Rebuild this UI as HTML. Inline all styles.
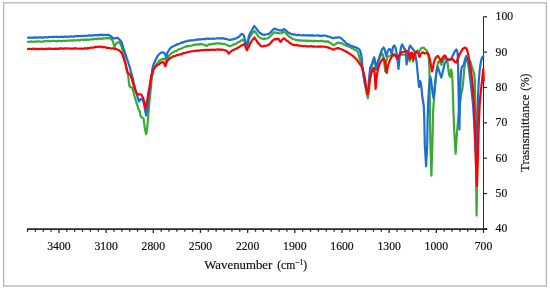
<!DOCTYPE html>
<html lang="en">
<head>
<meta charset="utf-8">
<title>FTIR spectra</title>
<style>
html,body{margin:0;padding:0;background:#fff;}
body{width:550px;height:289px;overflow:hidden;}
svg{display:block;}
text{font-family:"Liberation Serif",serif;font-size:11.7px;fill:#111;stroke:#111;stroke-width:0.18px;}
.c{fill:none;stroke-width:2.2;stroke-linejoin:round;stroke-linecap:round;}
.ax line{stroke:#2a2a2a;}
</style>
</head>
<body>
<svg width="550" height="289" viewBox="0 0 550 289">
<rect x="0" y="0" width="550" height="289" fill="#fff"/>
<rect x="3.6" y="2.8" width="542.8" height="283.2" fill="#fff" stroke="#b4b4b4" stroke-width="1.3"/>
<g class="ax">
<line x1="27.0" y1="229.1" x2="487.3" y2="229.1" style="stroke-width:1.7"/>
<line x1="483.5" y1="16.3" x2="483.5" y2="228.9" stroke-width="1"/>
<line x1="27.50" y1="228.9" x2="27.50" y2="231.8" stroke-width="1.3"/>
<line x1="35.36" y1="228.9" x2="35.36" y2="231.8" stroke-width="1.3"/>
<line x1="43.22" y1="228.9" x2="43.22" y2="231.8" stroke-width="1.3"/>
<line x1="51.09" y1="228.9" x2="51.09" y2="231.8" stroke-width="1.3"/>
<line x1="58.95" y1="228.9" x2="58.95" y2="232.9" stroke-width="1.3"/>
<line x1="66.81" y1="228.9" x2="66.81" y2="231.8" stroke-width="1.3"/>
<line x1="74.67" y1="228.9" x2="74.67" y2="231.8" stroke-width="1.3"/>
<line x1="82.53" y1="228.9" x2="82.53" y2="231.8" stroke-width="1.3"/>
<line x1="90.40" y1="228.9" x2="90.40" y2="231.8" stroke-width="1.3"/>
<line x1="98.26" y1="228.9" x2="98.26" y2="231.8" stroke-width="1.3"/>
<line x1="106.12" y1="228.9" x2="106.12" y2="232.9" stroke-width="1.3"/>
<line x1="113.98" y1="228.9" x2="113.98" y2="231.8" stroke-width="1.3"/>
<line x1="121.84" y1="228.9" x2="121.84" y2="231.8" stroke-width="1.3"/>
<line x1="129.71" y1="228.9" x2="129.71" y2="231.8" stroke-width="1.3"/>
<line x1="137.57" y1="228.9" x2="137.57" y2="231.8" stroke-width="1.3"/>
<line x1="145.43" y1="228.9" x2="145.43" y2="231.8" stroke-width="1.3"/>
<line x1="153.29" y1="228.9" x2="153.29" y2="232.9" stroke-width="1.3"/>
<line x1="161.16" y1="228.9" x2="161.16" y2="231.8" stroke-width="1.3"/>
<line x1="169.02" y1="228.9" x2="169.02" y2="231.8" stroke-width="1.3"/>
<line x1="176.88" y1="228.9" x2="176.88" y2="231.8" stroke-width="1.3"/>
<line x1="184.74" y1="228.9" x2="184.74" y2="231.8" stroke-width="1.3"/>
<line x1="192.60" y1="228.9" x2="192.60" y2="231.8" stroke-width="1.3"/>
<line x1="200.47" y1="228.9" x2="200.47" y2="232.9" stroke-width="1.3"/>
<line x1="208.33" y1="228.9" x2="208.33" y2="231.8" stroke-width="1.3"/>
<line x1="216.19" y1="228.9" x2="216.19" y2="231.8" stroke-width="1.3"/>
<line x1="224.05" y1="228.9" x2="224.05" y2="231.8" stroke-width="1.3"/>
<line x1="231.91" y1="228.9" x2="231.91" y2="231.8" stroke-width="1.3"/>
<line x1="239.78" y1="228.9" x2="239.78" y2="231.8" stroke-width="1.3"/>
<line x1="247.64" y1="228.9" x2="247.64" y2="232.9" stroke-width="1.3"/>
<line x1="255.50" y1="228.9" x2="255.50" y2="231.8" stroke-width="1.3"/>
<line x1="263.36" y1="228.9" x2="263.36" y2="231.8" stroke-width="1.3"/>
<line x1="271.22" y1="228.9" x2="271.22" y2="231.8" stroke-width="1.3"/>
<line x1="279.09" y1="228.9" x2="279.09" y2="231.8" stroke-width="1.3"/>
<line x1="286.95" y1="228.9" x2="286.95" y2="231.8" stroke-width="1.3"/>
<line x1="294.81" y1="228.9" x2="294.81" y2="232.9" stroke-width="1.3"/>
<line x1="302.67" y1="228.9" x2="302.67" y2="231.8" stroke-width="1.3"/>
<line x1="310.53" y1="228.9" x2="310.53" y2="231.8" stroke-width="1.3"/>
<line x1="318.40" y1="228.9" x2="318.40" y2="231.8" stroke-width="1.3"/>
<line x1="326.26" y1="228.9" x2="326.26" y2="231.8" stroke-width="1.3"/>
<line x1="334.12" y1="228.9" x2="334.12" y2="231.8" stroke-width="1.3"/>
<line x1="341.98" y1="228.9" x2="341.98" y2="232.9" stroke-width="1.3"/>
<line x1="349.84" y1="228.9" x2="349.84" y2="231.8" stroke-width="1.3"/>
<line x1="357.71" y1="228.9" x2="357.71" y2="231.8" stroke-width="1.3"/>
<line x1="365.57" y1="228.9" x2="365.57" y2="231.8" stroke-width="1.3"/>
<line x1="373.43" y1="228.9" x2="373.43" y2="231.8" stroke-width="1.3"/>
<line x1="381.29" y1="228.9" x2="381.29" y2="231.8" stroke-width="1.3"/>
<line x1="389.16" y1="228.9" x2="389.16" y2="232.9" stroke-width="1.3"/>
<line x1="397.02" y1="228.9" x2="397.02" y2="231.8" stroke-width="1.3"/>
<line x1="404.88" y1="228.9" x2="404.88" y2="231.8" stroke-width="1.3"/>
<line x1="412.74" y1="228.9" x2="412.74" y2="231.8" stroke-width="1.3"/>
<line x1="420.60" y1="228.9" x2="420.60" y2="231.8" stroke-width="1.3"/>
<line x1="428.47" y1="228.9" x2="428.47" y2="231.8" stroke-width="1.3"/>
<line x1="436.33" y1="228.9" x2="436.33" y2="232.9" stroke-width="1.3"/>
<line x1="444.19" y1="228.9" x2="444.19" y2="231.8" stroke-width="1.3"/>
<line x1="452.05" y1="228.9" x2="452.05" y2="231.8" stroke-width="1.3"/>
<line x1="459.91" y1="228.9" x2="459.91" y2="231.8" stroke-width="1.3"/>
<line x1="467.78" y1="228.9" x2="467.78" y2="231.8" stroke-width="1.3"/>
<line x1="475.64" y1="228.9" x2="475.64" y2="231.8" stroke-width="1.3"/>
<line x1="483.50" y1="228.9" x2="483.50" y2="232.9" stroke-width="1.3"/>
<line x1="483.5" y1="228.90" x2="487.1" y2="228.90" stroke-width="1.2"/>
<line x1="483.5" y1="193.55" x2="487.1" y2="193.55" stroke-width="1.2"/>
<line x1="483.5" y1="158.20" x2="487.1" y2="158.20" stroke-width="1.2"/>
<line x1="483.5" y1="122.85" x2="487.1" y2="122.85" stroke-width="1.2"/>
<line x1="483.5" y1="87.50" x2="487.1" y2="87.50" stroke-width="1.2"/>
<line x1="483.5" y1="52.15" x2="487.1" y2="52.15" stroke-width="1.2"/>
<line x1="483.5" y1="16.80" x2="487.1" y2="16.80" stroke-width="1.2"/>
</g>
<path class="c" stroke="#3aaa35" d="M28.0,41.70 L28.8,41.98 L29.6,41.96 L30.4,41.38 L31.2,41.38 L32.0,41.85 L32.8,41.77 L33.6,41.72 L34.4,41.47 L35.2,41.65 L36.0,41.64 L36.8,41.61 L37.6,41.32 L38.4,41.48 L39.2,41.45 L40.0,41.50 L40.8,41.62 L41.6,41.77 L42.4,41.72 L43.2,41.43 L44.0,41.34 L44.8,41.21 L45.6,41.03 L46.4,41.01 L47.2,41.26 L48.0,41.14 L48.8,41.16 L49.6,41.46 L50.4,41.20 L51.2,41.20 L52.0,40.97 L52.8,40.81 L53.6,40.98 L54.4,40.84 L55.2,41.05 L56.0,41.34 L56.8,41.11 L57.6,40.77 L58.4,41.20 L59.2,41.11 L60.0,40.90 L60.8,41.02 L61.7,41.09 L62.5,40.97 L63.3,40.95 L64.2,40.64 L65.0,41.01 L65.8,40.96 L66.7,40.42 L67.5,40.76 L68.3,40.70 L69.2,40.51 L70.0,40.52 L70.8,40.46 L71.7,40.71 L72.5,40.40 L73.3,40.58 L74.2,40.24 L75.0,40.30 L75.8,40.50 L76.7,40.46 L77.5,40.13 L78.3,40.14 L79.2,40.32 L80.0,40.14 L80.8,39.94 L81.7,39.72 L82.5,39.74 L83.3,39.93 L84.2,39.54 L85.0,39.96 L85.8,39.50 L86.7,39.86 L87.5,39.43 L88.3,39.79 L89.2,39.58 L90.0,39.40 L90.8,39.34 L91.7,39.28 L92.5,39.30 L93.3,39.19 L94.2,38.95 L95.0,38.81 L95.8,38.94 L96.7,39.14 L97.5,38.88 L98.3,38.46 L99.2,38.87 L100.0,38.60 L100.8,38.71 L101.7,38.79 L102.5,38.30 L103.3,38.62 L104.2,38.15 L105.0,38.50 L105.8,38.22 L106.7,38.16 L107.5,38.54 L108.3,38.01 L109.2,38.25 L110.0,38.20 L110.9,39.08 L111.8,39.50 L113.0,41.80 L113.8,44.50 L114.5,47.00 L115.5,44.60 L116.7,43.00 L117.8,42.34 L119.0,42.00 L120.5,44.00 L121.5,46.56 L122.4,49.50 L123.5,54.34 L124.5,58.70 L125.6,64.50 L126.7,70.40 L128.2,76.00 L129.0,83.00 L129.6,86.50 L131.0,87.20 L132.5,88.00 L134.0,94.50 L135.1,98.29 L136.2,101.80 L137.3,105.10 L138.4,109.00 L139.8,111.30 L140.6,116.00 L141.6,117.40 L142.6,117.81 L143.5,118.40 L144.3,124.00 L144.9,129.10 L146.1,134.20 L147.0,130.00 L147.5,125.00 L148.3,115.00 L149.0,106.00 L150.0,96.00 L151.0,86.00 L152.2,75.00 L153.1,71.67 L154.0,68.75 L154.8,67.27 L155.7,65.30 L156.5,63.98 L157.5,63.03 L158.5,61.50 L159.4,60.56 L160.2,60.38 L161.1,59.60 L162.0,59.09 L162.9,59.04 L163.8,59.20 L164.7,58.80 L165.6,60.00 L166.3,63.00 L167.2,59.50 L168.4,56.80 L169.4,55.28 L170.5,54.20 L171.6,53.15 L172.7,52.50 L173.5,52.23 L174.4,51.65 L175.2,51.04 L176.1,51.25 L176.9,50.55 L177.9,49.83 L179.0,49.26 L180.0,49.06 L180.8,48.62 L181.6,48.46 L182.4,48.21 L183.2,47.47 L184.1,47.28 L184.9,46.75 L185.7,46.68 L186.5,46.55 L187.3,46.05 L188.2,46.07 L189.0,46.03 L189.9,45.81 L190.7,45.74 L191.6,45.50 L192.4,45.22 L193.3,44.92 L194.1,45.07 L195.0,44.83 L195.8,44.62 L196.7,44.40 L197.6,44.53 L198.4,44.72 L199.2,44.16 L200.1,44.36 L201.0,44.15 L201.8,44.13 L202.9,44.46 L204.0,44.77 L205.1,45.11 L206.2,45.91 L207.0,45.78 L207.8,45.06 L209.0,44.43 L209.9,44.18 L210.7,44.32 L211.6,44.11 L212.4,43.76 L213.3,44.02 L214.1,43.66 L215.0,43.80 L215.8,43.46 L216.6,43.39 L217.4,43.41 L218.3,43.31 L219.1,43.60 L219.9,43.46 L220.7,43.40 L221.5,43.83 L222.3,43.93 L223.2,44.09 L224.0,43.90 L224.8,44.03 L225.7,44.46 L226.5,44.80 L227.5,45.14 L228.5,45.86 L229.5,46.30 L230.3,46.05 L231.2,45.83 L232.0,45.30 L232.9,45.05 L233.9,44.38 L234.8,44.11 L235.8,43.80 L236.7,43.40 L237.5,42.61 L238.3,42.15 L239.2,41.92 L240.0,41.50 L240.8,40.65 L241.7,40.44 L242.5,39.70 L244.0,40.40 L244.9,42.00 L246.0,46.00 L247.0,48.60 L248.0,43.50 L249.0,38.50 L250.0,36.73 L251.0,35.30 L252.0,33.54 L253.0,32.30 L254.3,31.00 L255.2,31.80 L256.0,33.00 L256.9,34.09 L257.8,35.35 L258.7,36.80 L259.6,37.51 L260.5,38.20 L261.4,38.44 L262.2,38.61 L263.1,39.00 L264.1,38.96 L265.0,38.55 L266.0,38.60 L267.0,38.49 L267.9,38.16 L268.9,37.50 L269.9,36.60 L271.0,35.40 L272.0,34.31 L273.0,33.30 L273.9,32.76 L274.7,32.20 L275.9,32.60 L277.0,32.90 L278.1,32.86 L279.1,33.40 L280.2,33.25 L281.3,33.20 L282.1,32.72 L283.0,32.20 L284.2,31.80 L285.5,32.80 L286.4,33.60 L287.3,34.80 L288.3,35.54 L289.3,36.80 L290.2,37.47 L291.0,37.67 L291.9,38.25 L292.7,38.99 L293.6,39.20 L294.5,39.51 L295.4,39.55 L296.2,40.23 L297.1,40.08 L298.0,40.40 L298.9,40.13 L299.7,40.60 L300.6,40.27 L301.4,40.44 L302.2,40.83 L303.1,40.76 L303.9,40.38 L304.8,40.70 L305.6,40.72 L306.5,40.81 L307.3,40.67 L308.2,40.90 L309.1,40.97 L309.9,40.65 L310.8,40.80 L311.7,40.86 L312.5,41.23 L313.4,40.70 L314.3,41.14 L315.1,40.79 L316.0,41.00 L316.8,41.07 L317.6,40.98 L318.4,41.05 L319.2,41.26 L320.0,41.06 L320.8,40.91 L321.6,40.93 L322.4,40.93 L323.2,41.45 L324.0,41.34 L324.8,41.57 L325.6,41.30 L326.6,41.59 L327.7,41.33 L328.7,41.80 L329.9,42.65 L331.0,43.30 L331.9,44.18 L332.9,44.84 L333.8,45.40 L334.6,44.70 L335.5,44.00 L336.5,43.26 L337.5,42.70 L338.4,42.77 L339.2,43.09 L340.1,42.85 L340.9,43.12 L341.8,43.20 L342.9,43.72 L343.9,44.56 L345.0,44.80 L345.8,45.39 L346.6,45.88 L347.5,46.22 L348.3,46.27 L349.1,46.80 L350.1,47.13 L351.1,47.79 L352.0,48.15 L353.0,48.80 L356.4,50.50 L358.2,52.50 L359.3,57.00 L360.3,61.00 L361.5,64.50 L362.7,70.00 L364.0,78.00 L365.5,87.00 L366.8,94.00 L367.9,98.30 L368.8,92.00 L369.6,80.00 L370.6,71.00 L372.0,66.00 L373.5,61.00 L374.4,59.50 L375.4,64.00 L376.2,69.80 L377.0,66.00 L378.0,62.00 L379.5,58.00 L381.0,55.20 L382.0,53.30 L383.0,55.00 L384.0,61.00 L385.2,71.50 L386.2,62.00 L387.3,57.50 L389.0,56.00 L392.0,55.30 L394.0,55.30 L396.0,55.80 L397.5,56.50 L399.0,55.50 L401.0,55.00 L405.0,54.50 L408.0,54.00 L408.8,57.00 L409.6,61.20 L410.4,57.00 L411.2,54.00 L412.2,57.00 L413.1,61.60 L414.0,57.00 L415.0,53.00 L416.3,51.30 L417.6,50.50 L419.0,52.00 L420.0,50.30 L421.0,48.50 L422.3,47.80 L423.6,47.50 L425.0,49.00 L427.0,51.00 L427.9,53.00 L428.6,56.00 L429.2,64.00 L429.6,80.00 L429.9,110.00 L430.3,140.00 L431.4,175.60 L432.5,140.00 L433.1,112.00 L434.0,98.00 L435.0,86.00 L436.0,76.00 L437.1,67.00 L438.2,62.30 L439.2,61.00 L440.2,62.50 L441.5,65.00 L442.4,62.50 L443.3,60.50 L444.5,58.30 L445.7,57.00 L446.6,59.50 L447.6,63.00 L448.4,70.00 L449.2,75.00 L450.1,76.80 L450.8,71.00 L451.2,69.50 L451.8,73.00 L452.3,77.00 L452.8,90.00 L453.4,110.00 L454.2,130.00 L455.6,153.60 L457.2,130.00 L459.0,110.00 L461.0,95.00 L462.6,88.00 L463.4,80.00 L464.1,70.00 L465.0,64.00 L466.0,60.30 L467.6,59.20 L469.0,60.00 L470.4,61.80 L472.0,67.00 L473.4,71.50 L474.2,74.00 L474.8,80.00 L475.3,100.00 L475.7,140.00 L476.1,180.00 L476.6,215.60 L477.1,180.00 L477.5,140.00 L477.9,110.00 L478.4,95.00"/>
<path class="c" stroke="#1b6fd0" d="M28.0,37.70 L28.8,37.45 L29.6,37.90 L30.4,37.83 L31.2,37.49 L32.0,37.63 L32.8,37.59 L33.6,37.70 L34.4,37.78 L35.2,37.32 L36.0,37.26 L36.8,37.77 L37.6,37.50 L38.4,37.69 L39.2,37.19 L40.0,37.50 L40.8,37.44 L41.6,37.59 L42.4,37.25 L43.2,37.69 L44.0,37.64 L44.8,37.06 L45.6,37.03 L46.4,37.33 L47.2,37.57 L48.0,37.18 L48.8,37.05 L49.6,37.16 L50.4,36.89 L51.2,36.99 L52.0,37.10 L52.8,37.11 L53.6,36.92 L54.4,36.90 L55.2,36.86 L56.0,36.99 L56.8,36.86 L57.6,36.67 L58.4,37.16 L59.2,36.96 L60.0,36.90 L60.8,36.96 L61.7,36.63 L62.5,37.12 L63.3,37.00 L64.2,36.49 L65.0,36.59 L65.8,36.81 L66.7,36.77 L67.5,36.88 L68.3,36.52 L69.2,36.74 L70.0,36.61 L70.8,36.34 L71.7,36.49 L72.5,36.64 L73.3,36.59 L74.2,36.34 L75.0,36.30 L75.8,36.32 L76.7,35.92 L77.5,36.02 L78.3,36.33 L79.2,36.05 L80.0,35.86 L80.8,36.06 L81.7,36.12 L82.5,36.06 L83.3,35.83 L84.2,35.83 L85.0,35.84 L85.8,35.97 L86.7,35.77 L87.5,35.65 L88.3,35.67 L89.2,35.34 L90.0,35.60 L90.8,35.24 L91.7,35.60 L92.5,35.71 L93.3,35.39 L94.2,35.20 L95.0,34.99 L95.8,35.13 L96.7,35.38 L97.5,35.17 L98.3,34.96 L99.2,35.10 L100.0,34.80 L100.9,34.65 L101.7,34.85 L102.6,35.15 L103.5,34.93 L104.3,34.87 L105.2,34.77 L106.1,34.97 L107.0,35.25 L107.8,34.66 L108.7,35.00 L109.8,35.78 L111.0,36.20 L111.9,37.21 L112.9,38.05 L113.8,38.60 L114.7,38.45 L115.5,38.00 L116.5,38.05 L117.5,37.70 L118.5,38.61 L119.5,39.50 L120.7,41.04 L121.8,42.50 L122.8,45.95 L123.8,49.50 L124.9,52.37 L126.0,55.80 L127.0,58.94 L127.9,61.64 L128.9,64.50 L129.9,67.71 L130.8,71.30 L131.8,74.70 L132.8,78.84 L133.8,83.00 L134.7,86.41 L135.5,90.00 L136.6,93.65 L137.6,97.50 L139.1,101.50 L139.9,100.22 L140.8,98.90 L141.8,99.33 L142.7,99.60 L144.0,104.00 L144.9,109.00 L146.1,115.60 L147.0,111.00 L147.5,107.60 L148.7,98.00 L150.0,88.70 L151.5,76.00 L152.5,68.00 L153.6,64.15 L154.4,62.43 L155.3,60.58 L156.8,57.45 L158.2,55.20 L159.2,54.27 L160.2,53.40 L161.3,52.55 L162.5,52.30 L163.6,52.63 L164.7,53.30 L165.6,55.50 L166.2,58.10 L166.9,55.00 L167.6,52.30 L169.0,50.00 L170.2,48.39 L171.3,47.20 L172.2,46.81 L173.0,46.54 L173.9,46.06 L174.7,45.62 L175.6,44.98 L176.5,44.88 L177.4,44.22 L178.2,44.29 L179.1,43.87 L180.0,43.46 L180.8,42.92 L181.6,42.61 L182.4,42.34 L183.2,42.55 L184.1,41.96 L184.9,41.60 L185.7,41.66 L186.5,41.22 L187.3,41.05 L188.2,40.66 L189.0,40.60 L189.9,40.73 L190.7,40.38 L191.6,40.34 L192.4,40.50 L193.3,40.23 L194.1,40.03 L195.0,40.03 L195.8,39.91 L196.7,39.53 L197.6,39.66 L198.4,39.58 L199.2,39.33 L200.1,39.18 L201.0,39.59 L201.8,39.23 L202.6,39.19 L203.4,38.94 L204.3,39.14 L205.1,39.22 L205.9,38.66 L206.7,38.61 L207.5,38.63 L208.4,38.95 L209.2,38.54 L210.0,38.70 L210.8,38.80 L211.6,38.75 L212.5,38.64 L213.3,38.40 L214.1,38.85 L214.9,38.71 L215.8,38.50 L216.6,38.28 L217.4,38.52 L218.2,38.33 L219.1,38.41 L219.9,38.22 L220.7,38.30 L221.6,38.44 L222.4,38.14 L223.3,38.35 L224.1,38.84 L225.0,38.60 L226.0,39.11 L227.0,39.01 L228.0,39.40 L229.5,40.00 L230.3,40.03 L231.2,39.48 L232.0,39.40 L232.9,39.46 L233.9,39.12 L234.8,38.69 L235.8,38.36 L236.7,38.30 L237.6,37.29 L238.6,37.14 L239.5,36.20 L240.7,34.75 L241.8,33.90 L243.2,34.50 L244.0,36.00 L245.2,41.00 L246.6,47.70 L247.8,41.50 L249.0,35.40 L250.5,32.50 L251.6,30.85 L252.7,28.80 L254.2,26.00 L255.6,27.60 L257.0,29.50 L257.9,30.90 L258.7,31.70 L259.6,32.59 L260.5,33.40 L261.4,33.59 L262.2,34.44 L263.1,34.60 L264.1,34.87 L265.0,34.66 L266.0,34.50 L267.0,34.31 L267.9,34.02 L268.9,33.90 L269.9,32.85 L271.0,32.00 L272.0,30.71 L273.0,29.80 L273.9,29.31 L274.7,28.60 L275.9,29.06 L277.0,29.60 L278.1,29.75 L279.1,30.30 L280.2,30.25 L281.3,30.70 L282.1,30.26 L283.0,29.60 L284.2,29.10 L285.5,30.00 L286.4,30.77 L287.3,31.80 L288.3,32.50 L289.3,33.20 L290.2,33.37 L291.0,34.00 L291.9,34.30 L292.7,34.01 L293.6,34.60 L294.5,34.48 L295.4,34.63 L296.3,35.13 L297.3,35.07 L298.2,34.85 L299.1,34.84 L300.0,35.10 L300.8,35.24 L301.6,35.38 L302.5,35.47 L303.3,35.12 L304.1,35.49 L304.9,35.40 L305.7,35.30 L306.6,35.65 L307.4,35.20 L308.2,35.40 L309.1,35.56 L309.9,35.16 L310.8,35.22 L311.7,35.71 L312.5,35.27 L313.4,35.63 L314.3,35.54 L315.1,35.71 L316.0,35.50 L316.8,35.44 L317.6,35.45 L318.4,35.44 L319.3,35.84 L320.1,35.69 L320.9,35.94 L321.7,35.92 L322.5,35.47 L323.4,35.76 L324.2,35.50 L325.0,35.48 L325.8,35.80 L326.9,35.79 L327.9,36.57 L329.0,36.60 L329.8,37.08 L330.6,37.41 L331.5,37.40 L332.3,37.87 L333.1,38.10 L334.1,38.11 L335.0,37.69 L336.0,37.60 L337.0,37.58 L337.9,37.29 L338.9,37.40 L339.9,37.60 L340.8,38.18 L341.8,38.80 L342.9,40.05 L344.0,40.80 L345.1,42.04 L346.2,43.20 L347.0,43.92 L347.9,44.07 L348.7,44.41 L349.5,45.00 L350.3,45.54 L351.1,45.93 L351.9,45.77 L352.7,46.55 L353.5,46.80 L354.3,46.81 L355.2,47.09 L356.0,47.60 L358.5,48.80 L360.0,50.50 L361.0,53.50 L361.8,59.00 L362.5,68.00 L363.5,76.00 L365.0,84.00 L366.5,90.00 L367.6,92.50 L368.5,88.00 L369.3,76.00 L370.2,68.00 L371.6,65.00 L372.8,61.00 L374.2,57.30 L375.2,62.00 L376.3,68.50 L377.3,64.00 L378.7,59.50 L380.0,55.00 L382.0,49.50 L383.6,47.50 L384.6,49.00 L385.4,52.50 L386.3,56.20 L387.2,53.00 L388.0,50.50 L389.0,49.00 L390.0,49.20 L390.9,51.00 L391.7,54.20 L392.4,50.00 L393.2,46.50 L394.4,45.50 L395.5,47.50 L396.5,52.50 L397.5,60.00 L398.5,68.80 L399.3,60.00 L400.2,52.00 L401.2,46.50 L402.2,44.50 L403.2,46.50 L404.2,48.50 L405.2,49.60 L405.9,55.00 L406.6,64.50 L407.5,57.00 L408.5,51.00 L409.3,47.50 L410.2,45.50 L411.5,47.50 L413.5,50.00 L415.0,52.00 L415.8,57.00 L416.8,64.00 L417.7,74.00 L418.5,82.00 L419.1,87.00 L419.6,83.00 L420.1,81.00 L420.8,83.00 L421.4,87.00 L422.1,95.00 L423.0,101.00 L423.8,106.00 L424.3,120.00 L424.8,145.00 L426.1,166.30 L427.2,145.00 L427.6,120.00 L428.1,104.00 L428.7,93.00 L429.6,81.00 L430.3,76.80 L431.0,80.00 L431.8,86.00 L432.7,94.00 L433.6,98.00 L434.3,93.00 L435.0,85.00 L435.9,76.00 L436.8,69.50 L437.7,67.00 L438.5,69.00 L439.3,71.50 L440.3,74.50 L441.3,77.60 L442.2,74.00 L443.2,70.00 L444.4,64.50 L445.5,62.00 L446.6,61.00 L447.8,60.50 L449.5,59.80 L451.0,59.00 L452.0,57.20 L453.0,55.00 L455.0,51.00 L456.3,49.50 L457.0,50.50 L457.6,53.00 L458.0,62.00 L458.4,84.00 L458.8,105.00 L459.4,129.50 L459.9,105.00 L460.4,84.00 L461.0,72.00 L461.8,67.30 L463.6,65.00 L465.0,59.50 L466.2,56.00 L467.1,58.50 L468.0,62.50 L469.0,69.00 L470.0,77.00 L471.0,86.00 L472.0,95.00 L473.0,104.00 L474.0,120.00 L475.0,140.00 L476.3,160.00 L477.2,125.00 L477.8,104.00 L478.7,82.00 L479.7,70.00 L480.6,63.50 L481.4,59.50 L482.4,57.00 L483.3,56.30"/>
<path class="c" stroke="#ff0000" d="M28.0,49.00 L28.8,48.83 L29.6,49.01 L30.4,48.90 L31.2,49.04 L32.0,49.05 L32.8,48.68 L33.6,48.64 L34.4,49.16 L35.2,48.79 L36.0,48.76 L36.8,49.24 L37.6,48.90 L38.4,49.13 L39.2,48.89 L40.0,48.90 L40.8,48.98 L41.6,48.65 L42.4,48.95 L43.2,49.09 L44.0,48.85 L44.8,48.98 L45.6,48.93 L46.4,48.52 L47.2,48.96 L48.0,48.84 L48.8,48.64 L49.6,48.46 L50.4,48.98 L51.2,48.71 L52.0,48.86 L52.8,48.95 L53.6,48.83 L54.4,48.95 L55.2,48.60 L56.0,48.85 L56.8,48.61 L57.6,48.91 L58.4,48.87 L59.2,48.35 L60.0,48.60 L60.8,48.35 L61.7,48.39 L62.5,48.85 L63.3,48.49 L64.2,48.60 L65.0,48.37 L65.8,48.49 L66.7,48.39 L67.5,48.35 L68.3,48.49 L69.2,48.47 L70.0,48.66 L70.8,48.50 L71.7,48.64 L72.5,48.58 L73.3,48.65 L74.2,48.43 L75.0,48.30 L75.9,48.13 L76.8,48.63 L77.6,48.75 L78.5,48.76 L79.4,48.59 L80.2,48.74 L81.1,48.47 L82.0,48.70 L82.8,48.84 L83.6,48.61 L84.4,48.35 L85.2,48.14 L86.0,48.58 L86.8,48.59 L87.6,47.95 L88.4,48.33 L89.2,48.01 L90.0,48.00 L90.9,47.64 L91.8,47.59 L92.6,47.76 L93.5,47.69 L94.4,47.02 L95.2,47.25 L96.1,46.75 L97.0,46.90 L98.0,46.94 L99.0,46.59 L100.0,46.60 L100.8,46.92 L101.6,47.07 L102.4,46.84 L103.2,47.24 L104.0,47.00 L104.8,47.13 L105.7,47.23 L106.5,47.81 L107.3,48.00 L108.2,47.80 L109.2,48.01 L110.1,48.24 L111.0,48.40 L111.8,48.54 L112.7,48.31 L113.5,48.31 L114.3,48.90 L115.2,48.61 L116.0,48.80 L116.9,49.49 L117.8,49.85 L118.7,50.00 L119.6,50.72 L120.4,51.60 L121.4,52.97 L122.4,54.40 L123.4,57.31 L124.3,60.29 L125.3,63.10 L126.4,67.51 L127.5,71.80 L129.0,73.80 L130.4,75.00 L131.5,78.00 L132.5,81.50 L133.6,85.14 L134.7,88.70 L135.8,91.33 L136.9,93.80 L137.9,94.33 L139.0,94.30 L140.2,94.45 L141.3,94.60 L142.2,96.36 L143.2,98.20 L144.6,104.00 L145.6,108.40 L146.5,104.00 L147.5,98.90 L148.5,92.00 L149.3,88.00 L150.7,79.10 L152.0,73.50 L153.6,69.05 L154.6,67.98 L155.5,66.62 L156.3,65.85 L157.2,65.28 L158.0,64.80 L159.2,64.21 L160.3,63.00 L161.4,62.46 L162.4,61.90 L163.8,62.80 L165.3,66.30 L166.4,63.00 L167.5,60.50 L168.3,59.80 L169.2,58.72 L170.0,58.30 L170.9,57.71 L171.8,57.28 L172.7,56.70 L173.5,56.11 L174.3,56.21 L175.2,55.94 L176.0,55.57 L176.8,55.07 L177.6,55.21 L178.4,54.88 L179.2,54.79 L180.0,54.46 L180.8,54.11 L181.6,54.08 L182.4,53.84 L183.2,53.13 L184.1,52.89 L184.9,53.03 L185.7,52.96 L186.5,52.25 L187.3,52.15 L188.2,51.99 L189.0,51.94 L189.9,51.63 L190.7,51.52 L191.6,51.35 L192.4,51.25 L193.3,51.26 L194.1,50.94 L195.0,50.93 L195.8,50.76 L196.7,50.93 L197.6,50.37 L198.4,50.63 L199.2,50.65 L200.1,50.29 L201.0,50.14 L201.8,50.23 L202.6,50.39 L203.4,49.98 L204.3,49.90 L205.1,50.02 L205.9,50.14 L206.7,49.72 L207.5,49.82 L208.4,49.78 L209.2,50.06 L210.0,49.80 L210.8,49.75 L211.6,50.00 L212.5,49.54 L213.3,49.63 L214.1,49.82 L214.9,49.95 L215.8,49.66 L216.6,49.50 L217.4,49.42 L218.2,49.67 L219.1,49.43 L219.9,49.81 L220.7,49.60 L221.5,49.92 L222.3,49.60 L223.2,49.76 L224.0,50.00 L224.8,50.40 L225.7,50.49 L226.5,50.60 L227.8,52.20 L228.7,53.50 L229.6,52.85 L230.5,51.80 L231.4,51.10 L232.4,50.60 L233.3,49.93 L234.1,49.60 L235.0,49.30 L236.1,48.95 L237.1,48.09 L238.2,47.70 L239.1,46.97 L240.1,46.38 L241.0,45.80 L242.0,45.22 L243.0,44.68 L244.0,44.20 L245.2,46.00 L246.2,49.00 L247.0,50.20 L248.0,48.00 L249.0,46.27 L250.0,44.00 L251.0,42.08 L252.0,40.60 L252.8,39.25 L253.6,38.82 L254.4,37.50 L256.0,39.80 L256.9,41.24 L257.8,42.51 L258.7,43.40 L260.0,45.20 L260.8,45.71 L261.6,46.30 L262.5,46.46 L263.3,46.32 L264.1,45.75 L265.0,45.80 L266.0,45.71 L266.9,45.52 L267.9,45.15 L268.9,44.80 L269.9,43.66 L271.0,42.50 L272.0,41.26 L273.0,40.30 L273.9,39.55 L274.7,39.00 L275.6,39.03 L276.5,39.40 L277.4,38.72 L278.4,38.60 L279.5,40.40 L280.5,41.90 L282.0,40.00 L282.9,39.21 L283.7,38.30 L284.6,38.76 L285.5,39.50 L286.4,40.45 L287.3,41.00 L288.3,41.51 L289.3,42.60 L290.2,43.30 L291.0,43.60 L291.9,44.19 L292.7,44.61 L293.6,44.80 L294.5,45.20 L295.4,45.13 L296.3,44.92 L297.3,45.53 L298.2,45.30 L299.1,45.53 L300.0,45.80 L300.8,45.95 L301.6,45.92 L302.5,45.89 L303.3,46.28 L304.1,46.12 L304.9,46.00 L305.7,45.99 L306.6,46.43 L307.4,46.24 L308.2,46.30 L309.1,46.50 L309.9,46.25 L310.8,46.17 L311.7,46.41 L312.5,46.61 L313.4,46.22 L314.3,46.64 L315.1,46.75 L316.0,46.50 L316.8,46.72 L317.6,46.76 L318.4,46.26 L319.3,46.68 L320.1,46.86 L320.9,46.36 L321.7,46.53 L322.5,46.55 L323.4,46.74 L324.2,46.70 L325.0,46.76 L325.8,46.80 L326.9,47.38 L327.9,47.28 L329.0,48.00 L329.8,48.06 L330.6,48.44 L331.5,48.78 L332.3,49.08 L333.1,49.70 L334.3,49.45 L335.5,48.60 L336.5,48.53 L337.5,48.00 L338.4,48.02 L339.2,48.56 L340.1,48.72 L340.9,49.00 L341.8,49.40 L342.9,49.84 L343.9,50.56 L345.0,51.00 L345.8,51.54 L346.6,51.87 L347.5,52.24 L348.3,52.81 L349.1,53.40 L350.1,53.81 L351.1,54.74 L352.0,55.49 L353.0,56.00 L356.4,59.20 L358.0,61.50 L359.3,63.50 L360.5,65.00 L361.5,66.50 L362.5,68.50 L363.7,73.00 L365.0,79.00 L366.3,88.00 L367.6,94.00 L368.8,88.00 L370.0,79.00 L371.2,73.50 L372.6,70.00 L374.0,68.00 L374.7,74.00 L375.6,89.00 L376.4,80.00 L377.2,73.00 L378.5,67.00 L380.0,63.00 L381.7,60.30 L383.6,58.20 L384.4,59.50 L385.2,63.00 L386.0,69.00 L386.7,73.00 L387.4,69.00 L388.2,65.00 L389.5,61.00 L391.0,58.00 L393.0,54.80 L394.2,54.40 L395.4,55.50 L397.0,58.60 L398.2,57.00 L399.5,54.80 L402.0,52.20 L406.0,51.00 L407.5,51.40 L408.6,52.80 L409.3,56.00 L409.9,59.20 L410.5,55.50 L411.1,52.60 L412.2,53.00 L412.8,56.50 L413.3,59.60 L413.9,56.50 L414.6,53.50 L417.0,52.00 L418.3,53.00 L419.4,57.00 L420.6,54.00 L422.6,52.20 L424.6,53.50 L427.0,53.00 L428.6,54.60 L429.6,58.00 L430.4,62.50 L431.2,67.00 L432.1,71.50 L433.0,67.50 L433.8,63.00 L435.0,59.00 L436.6,56.60 L438.0,56.00 L439.6,58.50 L441.2,61.50 L442.7,57.50 L444.2,55.60 L445.6,56.00 L446.6,58.80 L448.0,59.40 L450.0,59.60 L452.5,59.00 L455.0,62.00 L456.5,62.60 L458.0,58.00 L460.0,53.50 L462.6,49.00 L464.6,47.60 L466.6,48.60 L468.0,53.50 L469.0,59.00 L470.0,65.00 L471.6,75.00 L472.6,84.00 L474.0,104.00 L475.0,130.00 L475.8,160.00 L476.9,186.00 L477.8,160.00 L478.6,130.00 L479.7,104.00 L481.2,88.00 L482.7,75.00 L483.2,69.00 L483.5,73.00 L483.7,81.00"/>
<g>
<text x="58.9" y="249.7" text-anchor="middle">3400</text>
<text x="106.1" y="249.7" text-anchor="middle">3100</text>
<text x="153.3" y="249.7" text-anchor="middle">2800</text>
<text x="200.5" y="249.7" text-anchor="middle">2500</text>
<text x="247.6" y="249.7" text-anchor="middle">2200</text>
<text x="294.8" y="249.7" text-anchor="middle">1900</text>
<text x="342.0" y="249.7" text-anchor="middle">1600</text>
<text x="389.2" y="249.7" text-anchor="middle">1300</text>
<text x="436.3" y="249.7" text-anchor="middle">1000</text>
<text x="483.5" y="249.7" text-anchor="middle">700</text>
</g>
<g>
<text x="495.6" y="232.3">40</text>
<text x="495.6" y="197.0">50</text>
<text x="495.6" y="161.6">60</text>
<text x="495.6" y="126.2">70</text>
<text x="495.6" y="90.9">80</text>
<text x="495.6" y="55.6">90</text>
<text x="495.6" y="20.2">100</text>
</g>
<text x="204.3" y="268.5" textLength="68" lengthAdjust="spacingAndGlyphs" style="font-size:12.2px">Wavenumber</text>
<text x="277.2" y="268.5" textLength="30" lengthAdjust="spacingAndGlyphs" style="font-size:12.2px">(cm<tspan dy="-3.7" style="font-size:8px">−1</tspan><tspan dy="3.7">)</tspan></text>
<text transform="translate(528.7,171.9) rotate(-90)" textLength="77.3" lengthAdjust="spacingAndGlyphs" style="font-size:12.2px">Trasnsmittance</text>
<text transform="translate(528.7,90.8) rotate(-90)" textLength="17.2" lengthAdjust="spacingAndGlyphs" style="font-size:12.2px">(%)</text>
</svg>
</body>
</html>
